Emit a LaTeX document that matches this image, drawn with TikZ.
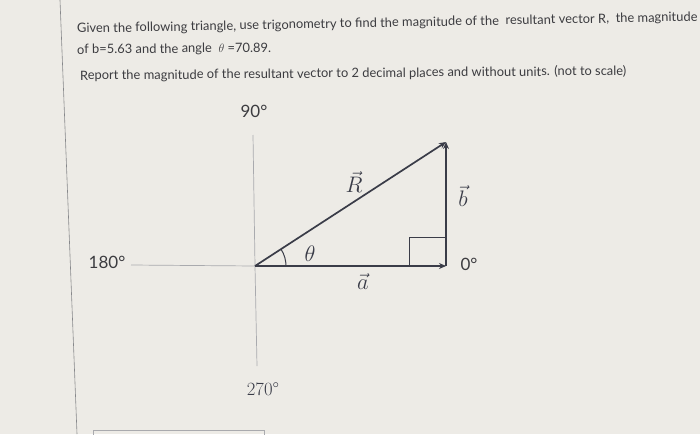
\documentclass[tikz,border=0pt]{standalone}
\usepackage{fontspec}
\newfontfamily\latofont{Lato}
\usetikzlibrary{arrows.meta}
\definecolor{paper}{HTML}{EDEBE6}
\definecolor{ink}{HTML}{3C3C40}
\definecolor{vecink}{HTML}{3A3C48}
\definecolor{axisgray}{HTML}{A9AAAE}
\newcommand{\biglbl}[1]{\scalebox{1.3}{$#1$}}

\begin{document}
\begin{tikzpicture}[x=1pt,y=-1pt,
    txt/.style={anchor=base west, inner sep=0pt, text=ink, font=\latofont\fontsize{12.9}{15}\selectfont},
    deg/.style={inner sep=0pt, text=ink, font=\latofont\fontsize{17}{20}\selectfont},
    lbl/.style={inner sep=0pt, text=vecink, font=\fontsize{17}{20}\selectfont},
    axis/.style={draw=axisgray, line width=0.7pt},
    vec/.style={draw=vecink, line width=1.7pt, -{Stealth[length=7pt,width=6pt]}}]
    % page
    \fill[paper] (0,0) rectangle (700,434);
    \useasboundingbox (0,0) rectangle (700,434);
    \draw[axisgray!80!black, line width=0.6pt] (60,0) -- (77,434);
    \draw[axisgray, line width=0.6pt] (93,440) -- (93,430) -- (264,430) -- (264,440);

    % question text
    \node[txt, rotate=1.1] (line-1) at (77,33) {Given the following triangle, use trigonometry to find the magnitude of the \ resultant vector R, \ the magnitude};
    \node[txt, rotate=0.6] (line-2) at (77,54) {of b=5.63 and the angle \ $\theta$ =70.89.};
    \node[txt, rotate=0.5] (line-3) at (80,80) {Report the magnitude of the resultant vector to 2 decimal places and without units. (not to scale)};

    % axes
    \coordinate (O) at (255,266);
    \coordinate (A) at (446,266);
    \coordinate (B) at (446,142);
    \coordinate (axis-top) at (253,135);
    \coordinate (axis-bottom) at (257,366);
    \coordinate (axis-left) at (131,265);
    \draw[axis] (axis-top) -- (O) -- (axis-bottom);
    \draw[axis] (axis-left) -- (O);

    \node[deg] (deg-90) at (254,111) {90°};
    \node[deg] (deg-180) at (107,262) {180°};
    \node[deg] (deg-0) at (469,264) {0°};
    \node[lbl] (deg-270) at (263,389) {\scalebox{1.1}{270°}};

    % right angle
    \draw[vecink, line width=0.9pt] (409,266) -- (409,237) -- (446,237);

    % angle
    \draw[vecink, line width=1pt] (286,266) arc[start angle=0, end angle=-33, radius=31];

    % vectors
    \draw[vec] (O) -- (A);
    \draw[vec] (A) -- (B);
    \draw[vec] (O) -- (B);

    \node[lbl] (lbl-R) at (354,182) {\biglbl{\vec{R}}};
    \node[lbl] (lbl-b) at (463,196) {\biglbl{\vec{b}}};
    \node[lbl] (lbl-a) at (363,281) {\biglbl{\vec{a}}};
    \node[lbl] (lbl-theta) at (310,254) {\biglbl{\theta}};
\end{tikzpicture}
\end{document}
